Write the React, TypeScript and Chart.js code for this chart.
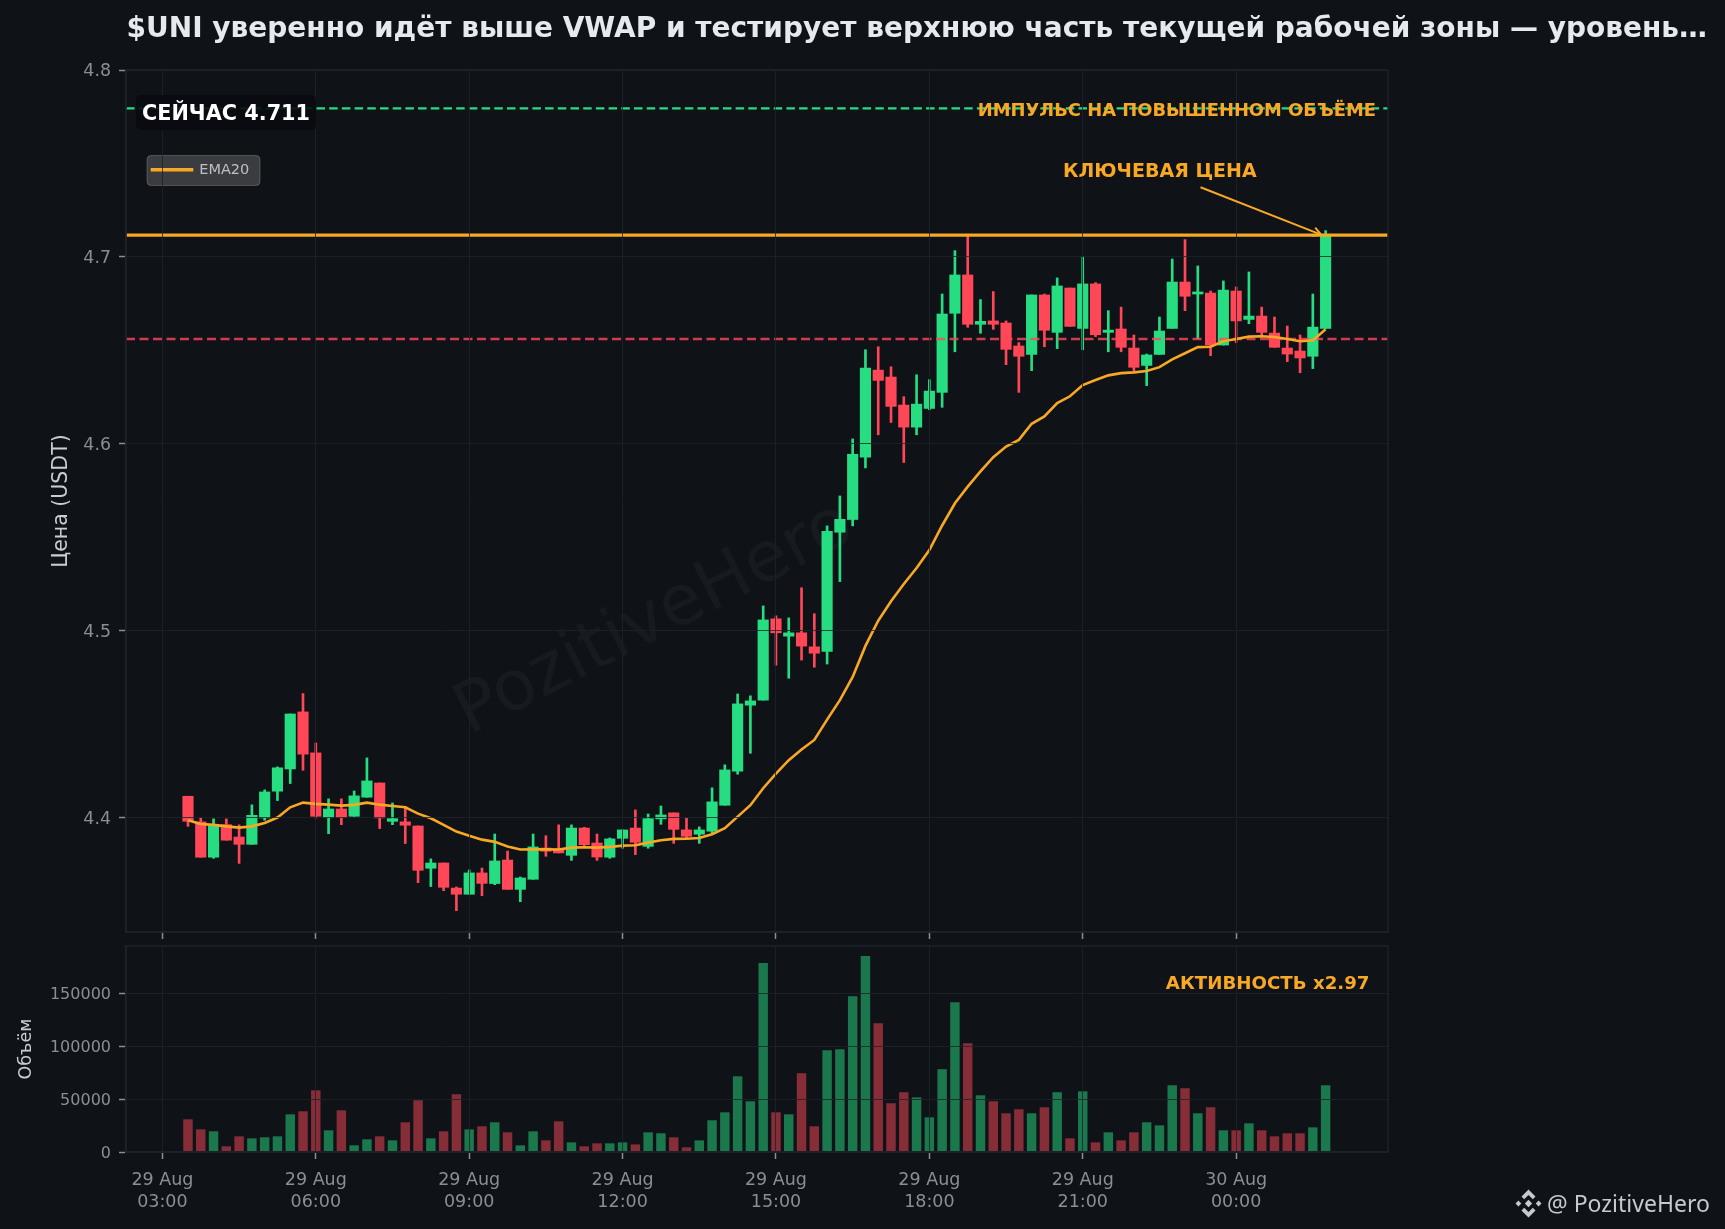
import React, { useEffect, useRef } from "react";
import { Chart, registerables } from "chart.js";

Chart.register(...registerables);

const FONT = "'DejaVu Sans', sans-serif";
const BG = "#0f1217";
const UP = "#26de81";
const DOWN = "#ff4757";
const ORANGE = "#f9a825";
const GRID = "rgba(30,35,42,0.8)";
const SPINE = "#1e232b";
const TICK = "#8a8f97";

const times = [
  "29 03:30","29 03:45","29 04:00","29 04:15","29 04:30","29 04:45","29 05:00","29 05:15","29 05:30","29 05:45",
  "29 06:00","29 06:15","29 06:30","29 06:45","29 07:00","29 07:15","29 07:30","29 07:45","29 08:00","29 08:15",
  "29 08:30","29 08:45","29 09:00","29 09:15","29 09:30","29 09:45","29 10:00","29 10:15","29 10:30","29 10:45",
  "29 11:00","29 11:15","29 11:30","29 11:45","29 12:00","29 12:15","29 12:30","29 12:45","29 13:00","29 13:15",
  "29 13:30","29 13:45","29 14:00","29 14:15","29 14:30","29 14:45","29 15:00","29 15:15","29 15:30","29 15:45",
  "29 16:00","29 16:15","29 16:30","29 16:45","29 17:00","29 17:15","29 17:30","29 17:45","29 18:00","29 18:15",
  "29 18:30","29 18:45","29 19:00","29 19:15","29 19:30","29 19:45","29 20:00","29 20:15","29 20:30","29 20:45",
  "29 21:00","29 21:15","29 21:30","29 21:45","29 22:00","29 22:15","29 22:30","29 22:45","29 23:00","29 23:15",
  "29 23:30","29 23:45","30 00:00","30 00:15","30 00:30","30 00:45","30 01:00","30 01:15","30 01:30","30 01:45",
];

const opens = [
  4.4116,4.3979,4.3790,4.3964,4.3898,4.3859,4.4000,4.4143,4.4262,4.4567,
  4.4348,4.4002,4.4048,4.4009,4.4111,4.4187,4.3982,4.3979,4.3957,4.3731,
  4.3759,4.3625,4.3592,4.3706,4.3649,4.3775,4.3618,4.3672,4.3839,4.3834,
  4.3800,4.3946,4.3866,4.3790,4.3891,4.3946,4.3848,4.3995,4.4027,4.3936,
  4.3913,4.3929,4.4068,4.4250,4.4603,4.4630,4.5065,4.4972,4.4990,4.4915,
  4.4891,4.5528,4.5596,4.5929,4.6395,4.6358,4.6208,4.6090,4.6190,4.6276,
  4.6699,4.6904,4.6640,4.6658,4.6647,4.6524,4.6479,4.6797,4.6597,4.6834,
  4.6618,4.6856,4.6597,4.6615,4.6513,4.6420,4.6479,4.6618,4.6866,4.6802,
  4.6807,4.6529,4.6818,4.6666,4.6684,4.6593,4.6513,4.6497,4.6469,4.6618,
];
const closes = [
  4.3982,4.3790,4.3964,4.3881,4.3859,4.4014,4.4139,4.4268,4.4556,4.4341,
  4.4009,4.4048,4.4002,4.4118,4.4198,4.4000,4.3996,4.3961,4.3720,4.3759,
  4.3629,4.3592,4.3706,4.3650,4.3770,4.3618,4.3679,4.3845,4.3822,4.3813,
  4.3946,4.3857,4.3791,4.3888,4.3936,4.3870,4.3996,4.4016,4.3939,4.3902,
  4.3936,4.4086,4.4257,4.4610,4.4626,4.5059,4.4990,4.4990,4.4919,4.4881,
  4.5533,4.5597,4.5945,4.6406,4.6340,4.6201,4.6090,4.6213,4.6283,4.6695,
  4.6904,4.6640,4.6656,4.6640,4.6506,4.6469,4.6797,4.6608,4.6845,4.6629,
  4.6856,4.6584,4.6609,4.6517,4.6410,4.6476,4.6604,4.6866,4.6790,4.6813,
  4.6529,4.6823,4.6658,4.6684,4.6597,4.6517,4.6481,4.6460,4.6625,4.7111,
];
const highs = [
  4.4116,4.4000,4.3995,4.3995,4.3963,4.4070,4.4150,4.4273,4.4556,4.4665,
  4.4401,4.4102,4.4102,4.4144,4.4321,4.4187,4.4080,4.4062,4.3957,4.3781,
  4.3759,4.3631,4.3722,4.3732,4.3914,4.3823,4.3684,4.3914,4.3905,4.3963,
  4.3963,4.3950,4.3914,4.3893,4.3936,4.4043,4.4021,4.4064,4.4027,4.4000,
  4.3952,4.4161,4.4284,4.4663,4.4653,4.5134,4.5081,4.5070,4.5231,4.5092,
  4.5562,4.5722,4.6027,4.6504,4.6520,4.6413,4.6253,4.6370,4.6344,4.6802,
  4.7034,4.7111,4.6772,4.6815,4.6658,4.6542,4.6797,4.6802,4.6888,4.6834,
  4.7002,4.6863,4.6713,4.6732,4.6583,4.6481,4.6679,4.6989,4.7093,4.6952,
  4.6818,4.6872,4.6840,4.6920,4.6732,4.6679,4.6631,4.6583,4.6802,4.7141,
];
const lows = [
  4.3955,4.3790,4.3784,4.3881,4.3757,4.3859,4.3988,4.4093,4.4184,4.4255,
  4.4000,4.3916,4.3964,4.4009,4.4111,4.3943,4.3964,4.3863,4.3654,4.3633,
  4.3611,4.3504,4.3592,4.3584,4.3643,4.3618,4.3552,4.3672,4.3795,4.3813,
  4.3773,4.3848,4.3773,4.3784,4.3838,4.3804,4.3838,4.3966,4.3864,4.3893,
  4.3864,4.3920,4.4068,4.4234,4.4346,4.4630,4.4817,4.4747,4.4844,4.4806,
  4.4823,4.5264,4.5562,4.5872,4.6049,4.6115,4.5901,4.6049,4.6183,4.6196,
  4.6493,4.6624,4.6592,4.6613,4.6424,4.6276,4.6392,4.6520,4.6510,4.6629,
  4.6504,4.6574,4.6493,4.6493,4.6392,4.6312,4.6479,4.6618,4.6713,4.6563,
  4.6472,4.6529,4.6542,4.6643,4.6576,4.6517,4.6440,4.6381,4.6403,4.6618,
];
const ema20 = [
  4.3988,4.3968,4.3963,4.3955,4.3948,4.3955,4.3973,4.4002,4.4057,4.4082,
  4.4075,4.4071,4.4066,4.4070,4.4082,4.4071,4.4064,4.4057,4.4023,4.3998,
  4.3963,4.3927,4.3905,4.3884,4.3872,4.3847,4.3831,4.3832,4.3832,4.3831,
  4.3841,4.3843,4.3841,4.3845,4.3852,4.3854,4.3868,4.3881,4.3888,4.3889,
  4.3893,4.3913,4.3945,4.4007,4.4068,4.4159,4.4237,4.4309,4.4366,4.4417,
  4.4526,4.4630,4.4754,4.4920,4.5055,4.5159,4.5251,4.5337,4.5433,4.5564,
  4.5683,4.5772,4.5853,4.5929,4.5986,4.6022,4.6108,4.6147,4.6219,4.6255,
  4.6315,4.6342,4.6367,4.6379,4.6383,4.6390,4.6411,4.6452,4.6485,4.6518,
  4.6520,4.6549,4.6561,4.6574,4.6576,4.6572,4.6561,4.6549,4.6554,4.6613,
];
const volumes = [
  30600,21100,19250,5050,14500,12600,13600,14500,35300,38200,
  58000,20200,39100,6000,11700,14500,10700,27800,48600,12600,
  19250,54300,21100,24000,27800,18300,6000,19250,10700,28700,
  8800,5050,7900,7900,8800,6900,18300,17400,13600,4100,
  10700,29700,37200,71300,47650,178300,37200,35300,74200,24000,
  95900,96900,147000,185000,121500,45800,56200,51400,32500,78000,
  141400,102600,53300,47650,36300,40100,36300,42000,56200,12600,
  57100,8800,18300,10700,18300,27800,24900,62800,60000,36300,
  42000,20200,20200,26800,20200,14500,17400,17400,23000,62800,
];

const xTickHours = [3, 6, 9, 12, 15, 18, 21, 24];
const xTickLabels = [
  ["29 Aug", "03:00"], ["29 Aug", "06:00"], ["29 Aug", "09:00"], ["29 Aug", "12:00"],
  ["29 Aug", "15:00"], ["29 Aug", "18:00"], ["29 Aug", "21:00"], ["30 Aug", "00:00"],
];
const priceTicks = [4.4, 4.5, 4.6, 4.7, 4.8];
const volumeTicks = [0, 50000, 100000, 150000];

const KEY_PRICE = 4.7117;
const TARGET_LEVEL = 4.7795;
const SUPPORT_LEVEL = 4.6561;

const TITLE = "$UNI уверенно идёт выше VWAP и тестирует верхнюю часть текущей рабочей зоны — уровень…";

const hoursOf = (t: string) => {
  const [d, hm] = t.split(" ");
  const [h, m] = hm.split(":").map(Number);
  return (Number(d) - 29) * 24 + h + m / 60;
};
const xs = times.map(hoursOf);
const X_MIN = 2.288;
const X_MAX = 26.97;
const isUp = (i: number) => closes[i] >= opens[i];

const noPadding = (s: any) => {
  s.paddingTop = 0;
  s.paddingBottom = 0;
  s.paddingLeft = 0;
  s.paddingRight = 0;
};

const gridOpts = { color: GRID, lineWidth: 1, z: 1, drawTicks: true, tickLength: 7, tickColor: TICK, tickWidth: 1.5 };
const borderOpts = { color: SPINE, width: 1.5, z: 1 };

const xScaleBase = (showLabels: boolean, height: number) => ({
  type: "linear",
  min: X_MIN,
  max: X_MAX,
  offset: false,
  afterBuildTicks: (s: any) => { s.ticks = xTickHours.map((value) => ({ value })); },
  afterFit: (s: any) => { s.height = height; noPadding(s); },
  grid: { ...gridOpts, offset: false },
  border: borderOpts,
  ticks: {
    display: showLabels,
    autoSkip: false,
    maxRotation: 0,
    minRotation: 0,
    padding: 11,
    color: TICK,
    font: { family: FONT, size: 17.5, lineHeight: 1.22 },
    callback: (v: number) => { const k = xTickHours.indexOf(v); return k >= 0 ? xTickLabels[k] : ""; },
  },
});

const framePlugin = {
  id: "frame",
  afterDraw(chart: any) {
    const { ctx, chartArea: a } = chart;
    ctx.save();
    ctx.strokeStyle = SPINE;
    ctx.lineWidth = 1.5;
    ctx.strokeRect(a.left, a.top, a.right - a.left, a.bottom - a.top);
    ctx.restore();
  },
};

const mainDecor = {
  id: "mainDecor",
  beforeDraw(chart: any) {
    const { ctx } = chart;
    chart.titleBlock.left = 126.5;
    chart.titleBlock.right = 1725;
    const lg = chart.legend;
    lg.left = 142;
    lg.top = 152.5;
    ctx.save();
    ctx.fillStyle = "rgba(255,255,255,0.18)";
    ctx.strokeStyle = "rgba(255,255,255,0.2)";
    ctx.lineWidth = 1;
    ctx.beginPath();
    ctx.roundRect(147, 155.5, 113, 30, 4);
    ctx.fill();
    ctx.stroke();
    ctx.restore();
  },
  beforeDatasetsDraw(chart: any) {
    const { ctx } = chart;
    ctx.save();
    ctx.translate(655, 620);
    ctx.rotate((-27 * Math.PI) / 180);
    ctx.font = `70px ${FONT}`;
    ctx.fillStyle = "rgba(255,255,255,0.035)";
    ctx.textAlign = "center";
    ctx.textBaseline = "middle";
    ctx.fillText("PozitiveHero", 0, 0);
    ctx.restore();
  },
  afterDraw(chart: any) {
    const { ctx, scales } = chart;
    const y = scales.y;
    ctx.save();
    // current-price badge
    ctx.fillStyle = "rgba(9,11,15,0.9)";
    ctx.beginPath();
    ctx.roundRect(136, 95, 180, 35, 5);
    ctx.fill();
    ctx.fillStyle = "#ffffff";
    ctx.font = `bold 20.8px ${FONT}`;
    ctx.textAlign = "left";
    ctx.textBaseline = "middle";
    ctx.fillText("СЕЙЧАС 4.711", 142, 115);
    // labels
    ctx.fillStyle = ORANGE;
    ctx.font = `bold 17.9px ${FONT}`;
    ctx.textAlign = "right";
    ctx.fillText("ИМПУЛЬС НА ПОВЫШЕННОМ ОБЪЁМЕ", 1376, 111.5);
    ctx.font = `bold 19px ${FONT}`;
    ctx.textAlign = "left";
    ctx.fillText("КЛЮЧЕВАЯ ЦЕНА", 1063, 172.5);
    // arrow
    const tipX = 1321;
    const tipY = y.getPixelForValue(KEY_PRICE) - 0.5;
    const fromX = 1200.5;
    const fromY = 187.3;
    const ang = Math.atan2(tipY - fromY, tipX - fromX);
    ctx.strokeStyle = ORANGE;
    ctx.lineWidth = 2;
    ctx.beginPath();
    ctx.moveTo(fromX, fromY);
    ctx.lineTo(tipX, tipY);
    ctx.moveTo(tipX - 9 * Math.cos(ang - 0.5), tipY - 9 * Math.sin(ang - 0.5));
    ctx.lineTo(tipX, tipY);
    ctx.lineTo(tipX - 9 * Math.cos(ang + 0.5), tipY - 9 * Math.sin(ang + 0.5));
    ctx.stroke();
    ctx.restore();
  },
};

const volDecor = {
  id: "volDecor",
  afterDraw(chart: any) {
    const { ctx } = chart;
    ctx.save();
    ctx.fillStyle = ORANGE;
    ctx.font = `bold 18.2px ${FONT}`;
    ctx.textAlign = "right";
    ctx.textBaseline = "middle";
    ctx.fillText("АКТИВНОСТЬ x2.97", 1369.5, 44);
    ctx.restore();
  },
};

export default function App() {
  const mainRef = useRef<HTMLCanvasElement>(null);
  const volRef = useRef<HTMLCanvasElement>(null);

  useEffect(() => {
    document.body.style.margin = "0";
    document.body.style.background = BG;

    const hline = (label: string, value: number, color: string, width: number, dash: number[], order: number) => ({
      type: "line",
      label,
      data: [{ x: X_MIN, y: value }, { x: X_MAX, y: value }],
      borderColor: color,
      backgroundColor: color,
      borderWidth: width,
      borderDash: dash,
      pointRadius: 0,
      order,
    });

    const main = new Chart(mainRef.current as HTMLCanvasElement, {
      type: "bar",
      data: {
        datasets: [
          {
            label: "wick",
            data: xs.map((x, i) => ({ x, y: [lows[i], highs[i]] })),
            backgroundColor: xs.map((_, i) => (isUp(i) ? UP : DOWN)),
            barThickness: 2,
            grouped: false,
            order: 6,
          },
          {
            label: "body",
            data: xs.map((x, i) => ({ x, y: [opens[i], closes[i]] })),
            backgroundColor: xs.map((_, i) => (isUp(i) ? UP : DOWN)),
            barThickness: 10.5,
            grouped: false,
            order: 5,
          },
          hline("support", SUPPORT_LEVEL, "rgba(255,71,87,0.8)", 2.4, [9, 4.5], 4),
          hline("target", TARGET_LEVEL, UP, 2.2, [8.5, 4.2], 4),
          hline("key", KEY_PRICE, ORANGE, 3.4, [], 3),
          {
            type: "line",
            label: "EMA20",
            data: xs.map((x, i) => ({ x, y: ema20[i] })),
            borderColor: ORANGE,
            backgroundColor: ORANGE,
            borderWidth: 2.6,
            pointRadius: 0,
            tension: 0,
            order: 1,
          },
        ],
      } as any,
      options: {
        responsive: false,
        animation: false,
        devicePixelRatio: 1,
        layout: { padding: { left: 0, top: 0, right: 337, bottom: 0 } },
        plugins: {
          tooltip: { enabled: false },
          title: {
            display: true,
            text: TITLE,
            align: "start",
            color: "#e6e9f0",
            font: { family: FONT, size: 28, weight: "bold", lineHeight: 1.2 },
            padding: { top: 13, bottom: 23.4 },
          },
          legend: {
            display: true,
            position: "chartArea",
            align: "start",
            labels: {
              filter: (item: any) => item.text === "EMA20",
              boxWidth: 40,
              boxHeight: 1,
              padding: 10,
              color: "#bcc0c6",
              font: { family: FONT, size: 14.5 },
            },
          },
        },
        scales: {
          x: xScaleBase(false, 8),
          y: {
            type: "linear",
            min: 4.339,
            max: 4.8,
            beginAtZero: false,
            afterBuildTicks: (s: any) => { s.ticks = priceTicks.map((value) => ({ value })); },
            afterFit: (s: any) => { s.width = 126; noPadding(s); },
            grid: gridOpts,
            border: borderOpts,
            ticks: {
              color: TICK,
              padding: 8,
              labelOffset: 1.7,
              font: { family: FONT, size: 17.4 },
              callback: (v: number) => v.toFixed(1),
            },
            title: {
              display: true,
              text: "Цена (USDT)",
              color: "#c9ccd1",
              font: { family: FONT, size: 20.5 },
              padding: { top: 49, bottom: 0 },
            },
          },
        },
      } as any,
      plugins: [mainDecor, framePlugin],
    });

    const vol = new Chart(volRef.current as HTMLCanvasElement, {
      type: "bar",
      data: {
        datasets: [
          {
            label: "Объём",
            data: xs.map((x, i) => ({ x, y: volumes[i] })),
            backgroundColor: xs.map((_, i) => (isUp(i) ? "rgba(38,222,129,0.5)" : "rgba(255,71,87,0.5)")),
            barThickness: 8.8,
          },
        ],
      } as any,
      options: {
        responsive: false,
        animation: false,
        devicePixelRatio: 1,
        layout: { padding: { left: 0, top: 6, right: 337, bottom: 0 } },
        plugins: { legend: { display: false }, tooltip: { enabled: false }, title: { display: false } },
        scales: {
          x: xScaleBase(true, 77),
          y: {
            type: "linear",
            min: 0,
            max: 194800,
            afterBuildTicks: (s: any) => { s.ticks = volumeTicks.map((value) => ({ value })); },
            afterFit: (s: any) => { s.width = 126; noPadding(s); },
            grid: gridOpts,
            border: borderOpts,
            ticks: {
              color: TICK,
              padding: 8,
              labelOffset: 1.5,
              font: { family: FONT, size: 16 },
              callback: (v: number) => String(v),
            },
            title: {
              display: true,
              text: "Объём",
              color: "#c9ccd1",
              font: { family: FONT, size: 17.5 },
              padding: { top: 16, bottom: 0 },
            },
          },
        },
      } as any,
      plugins: [volDecor, framePlugin],
    });

    return () => {
      main.destroy();
      vol.destroy();
    };
  }, []);

  return (
    <div style={{ position: "absolute", left: 0, top: 0, width: 1725, height: 1229, background: BG, overflow: "hidden" }}>
      <canvas ref={mainRef} width={1725} height={940} style={{ position: "absolute", left: 0, top: 0, display: "block" }} />
      <canvas ref={volRef} width={1725} height={289} style={{ position: "absolute", left: 0, top: 940, display: "block" }} />
      <svg width={29} height={29} viewBox="0 0 29 29" style={{ position: "absolute", left: 1514, top: 1189 }}>
        <g fill="#c5c9d0">
          <path d="M14.5 0.5 L21.5 7.5 L18.8 10.2 L14.5 5.9 L10.2 10.2 L7.5 7.5 Z" />
          <path d="M14.5 28.5 L21.5 21.5 L18.8 18.8 L14.5 23.1 L10.2 18.8 L7.5 21.5 Z" />
          <path d="M14.5 10.8 L18.2 14.5 L14.5 18.2 L10.8 14.5 Z" />
          <path d="M4.4 11.6 L7.3 14.5 L4.4 17.4 L1.5 14.5 Z" />
          <path d="M24.6 11.6 L27.5 14.5 L24.6 17.4 L21.7 14.5 Z" />
        </g>
      </svg>
      <div style={{ position: "absolute", left: 1547, top: 1186, fontFamily: "'Noto Sans', sans-serif", fontSize: 23, lineHeight: "34px", color: "#c5c9d0", whiteSpace: "nowrap" }}>
        @ PozitiveHero
      </div>
    </div>
  );
}
